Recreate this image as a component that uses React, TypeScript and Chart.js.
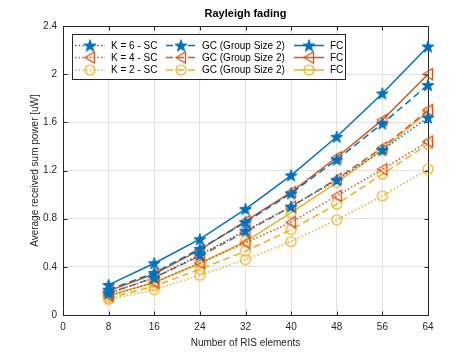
import React, { useEffect, useRef } from "react";
import { Chart, registerables } from "chart.js";

Chart.register(...registerables);

// ---- data ----
const risElements = [8, 16, 24, 32, 40, 48, 56, 64];

const sc6 = [0.18, 0.31, 0.5, 0.7, 0.9, 1.12, 1.37, 1.64];
const gc6 = [0.21, 0.35, 0.55, 0.77, 1.01, 1.29, 1.59, 1.91];
const fc6 = [0.25, 0.43, 0.63, 0.88, 1.16, 1.48, 1.84, 2.23];

const sc4 = [0.16, 0.27, 0.43, 0.6, 0.77, 0.99, 1.21, 1.44];
const gc4 = [0.18, 0.31, 0.49, 0.69, 0.9, 1.13, 1.39, 1.7];
const fc4 = [0.2, 0.34, 0.54, 0.78, 1.02, 1.31, 1.62, 2.0];

const sc2 = [0.13, 0.21, 0.33, 0.46, 0.61, 0.79, 0.99, 1.21];
const gc2 = [0.14, 0.24, 0.38, 0.53, 0.71, 0.92, 1.17, 1.42];
const fc2 = [0.16, 0.27, 0.43, 0.61, 0.85, 1.1, 1.37, 1.69];

const xTickValues = [0, 8, 16, 24, 32, 40, 48, 56, 64];
const yTickValues = [0, 0.4, 0.8, 1.2, 1.6, 2, 2.4];
const yTickLabels = ["0", "0.4", "0.8", "1.2", "1.6", "2", "2.4"];

const titleText = "Rayleigh fading";
const xTitle = "Number of RIS elements";
const yTitle = "Average received sum power [uW]";

const BLUE = "#0072BD";
const RED = "#D95319";
const YEL = "#EDB120";
const AXIS = "#262626";
const FONT = "'Liberation Sans', Arial, Helvetica, sans-serif";

function makeMarker(kind: string, color: string): HTMLCanvasElement {
  const c = document.createElement("canvas");
  c.width = 16;
  c.height = 16;
  const g = c.getContext("2d")!;
  const cx = 8,
    cy = 8;
  g.strokeStyle = color;
  g.fillStyle = color;
  g.lineWidth = 1;
  if (kind === "star") {
    g.beginPath();
    for (let i = 0; i < 10; i++) {
      const r = i % 2 === 0 ? 6.3 : 2.5;
      const ang = -Math.PI / 2 + (i * Math.PI) / 5;
      const px = cx + r * Math.cos(ang);
      const py = cy + 0.6 + r * Math.sin(ang);
      if (i === 0) g.moveTo(px, py);
      else g.lineTo(px, py);
    }
    g.closePath();
    g.fill();
    g.stroke();
  } else if (kind === "tri") {
    g.lineWidth = 1.3;
    g.beginPath();
    g.moveTo(cx - 5, cy);
    g.lineTo(cx + 4.5, cy - 5.5);
    g.lineTo(cx + 4.5, cy + 5.5);
    g.closePath();
    g.stroke();
  } else {
    g.lineWidth = 1.2;
    g.beginPath();
    g.arc(cx, cy, 5, 0, Math.PI * 2);
    g.stroke();
  }
  return c;
}

const DOTTED = [1.5, 2.2];
const DASHED = [7, 4];

export default function App() {
  const ref = useRef<HTMLCanvasElement | null>(null);

  useEffect(() => {
    if (!ref.current) return;
    const star = makeMarker("star", BLUE);
    const tri = makeMarker("tri", RED);
    const circ = makeMarker("circle", YEL);

    const series = [
      { label: "K = 6 - SC", data: sc6, color: BLUE, dash: DOTTED, marker: star, row: 0, col: 0 },
      { label: "GC (Group Size 2)", data: gc6, color: BLUE, dash: DASHED, marker: star, row: 0, col: 1 },
      { label: "FC", data: fc6, color: BLUE, dash: [], marker: star, row: 0, col: 2 },
      { label: "K = 4 - SC", data: sc4, color: RED, dash: DOTTED, marker: tri, row: 1, col: 0 },
      { label: "GC (Group Size 2)", data: gc4, color: RED, dash: DASHED, marker: tri, row: 1, col: 1 },
      { label: "FC", data: fc4, color: RED, dash: [], marker: tri, row: 1, col: 2 },
      { label: "K = 2 - SC", data: sc2, color: YEL, dash: DOTTED, marker: circ, row: 2, col: 0 },
      { label: "GC (Group Size 2)", data: gc2, color: YEL, dash: DASHED, marker: circ, row: 2, col: 1 },
      { label: "FC", data: fc2, color: YEL, dash: [], marker: circ, row: 2, col: 2 },
    ];

    const datasets = series.map((s) => ({
      label: s.label,
      data: risElements.map((x, i) => ({ x, y: s.data[i] })),
      borderColor: s.color,
      backgroundColor: s.color,
      borderWidth: 1.5,
      borderDash: s.dash,
      pointStyle: s.marker,
      pointRadius: 6,
      fill: false,
      tension: 0,
      clip: false as any,
    }));

    const framePlugin = {
      id: "frame",
      beforeDatasetsDraw(chart: any) {
        const { ctx, chartArea: a, scales } = chart;
        ctx.save();
        ctx.strokeStyle = AXIS;
        ctx.lineWidth = 1;
        const L = Math.round(a.left) + 0.5;
        const R = Math.round(a.right) + 0.5;
        const T = Math.round(a.top) + 0.5;
        const B = Math.round(a.bottom) + 0.5;
        ctx.beginPath();
        ctx.rect(L, T, R - L, B - T);
        ctx.stroke();
        ctx.beginPath();
        xTickValues.forEach((v) => {
          const px = Math.round(scales.x.getPixelForValue(v)) + 0.5;
          ctx.moveTo(px, B);
          ctx.lineTo(px, B - 4);
          ctx.moveTo(px, T);
          ctx.lineTo(px, T + 4);
        });
        yTickValues.forEach((v) => {
          const py = Math.round(scales.y.getPixelForValue(v)) + 0.5;
          ctx.moveTo(L, py);
          ctx.lineTo(L + 4, py);
          ctx.moveTo(R, py);
          ctx.lineTo(R - 4, py);
        });
        ctx.stroke();
        ctx.restore();
      },
      afterDraw(chart: any) {
        const { ctx, chartArea: a } = chart;
        ctx.save();
        // title
        ctx.fillStyle = "#000";
        ctx.font = `bold 11px ${FONT}`;
        ctx.textAlign = "center";
        ctx.textBaseline = "middle";
        ctx.fillText(titleText, (a.left + a.right) / 2, 14);

        // legend
        const bx = 72.5,
          by = 34.5,
          bw = 273,
          bh = 45;
        ctx.fillStyle = "#fff";
        ctx.fillRect(bx, by, bw, bh);
        ctx.strokeStyle = AXIS;
        ctx.lineWidth = 1;
        ctx.setLineDash([]);
        ctx.strokeRect(bx, by, bw, bh);
        const rowY = [45.5, 57.5, 70];
        const colX = [75, 166, 294];
        const sampleW = 30;
        const textGap = 6;
        ctx.font = `10px ${FONT}`;
        ctx.textAlign = "left";
        ctx.textBaseline = "middle";
        series.forEach((s) => {
          const x0 = colX[s.col];
          const y = rowY[s.row];
          ctx.save();
          ctx.strokeStyle = s.color;
          ctx.lineWidth = 1.5;
          ctx.setLineDash(s.dash);
          ctx.beginPath();
          ctx.moveTo(x0, y);
          ctx.lineTo(x0 + sampleW, y);
          ctx.stroke();
          ctx.restore();
          const m = s.marker;
          ctx.drawImage(m, x0 + sampleW / 2 - m.width / 2, y - m.height / 2);
          ctx.fillStyle = "#000";
          ctx.fillText(s.label, x0 + sampleW + textGap, y + 0.5);
        });
        ctx.restore();
      },
    };

    const tickFont = { family: FONT, size: 10 };

    const chart = new Chart(ref.current, {
      type: "line",
      data: { datasets: datasets as any },
      options: {
        responsive: false,
        animation: false,
        events: [],
        layout: { padding: { top: 26, right: 46, left: 0, bottom: 0 } },
        plugins: {
          legend: { display: false },
          tooltip: { enabled: false },
          title: { display: false },
        },
        scales: {
          x: {
            type: "linear",
            min: 0,
            max: 64,
            afterBuildTicks: (s: any) => {
              s.ticks = xTickValues.map((v) => ({ value: v }));
            },
            ticks: {
              font: tickFont,
              color: AXIS,
              padding: 6,
              maxRotation: 0,
              autoSkip: false,
              callback: (v: any) => String(v),
            },
            grid: { color: "#e2e2e2", drawTicks: false, tickLength: 0 },
            border: { display: false },
            title: {
              display: true,
              text: xTitle,
              color: AXIS,
              font: { family: FONT, size: 10 },
              padding: { top: 0, bottom: 6 },
            },
            afterFit: (s: any) => {
              s.height = 40;
            },
          },
          y: {
            type: "linear",
            min: 0,
            max: 2.4,
            afterBuildTicks: (s: any) => {
              s.ticks = yTickValues.map((v) => ({ value: v }));
            },
            ticks: {
              font: tickFont,
              color: AXIS,
              padding: 6,
              autoSkip: false,
              callback: (_v: any, i: number) => yTickLabels[i],
            },
            grid: { color: "#e2e2e2", drawTicks: false, tickLength: 0 },
            border: { display: false },
            title: {
              display: true,
              text: yTitle,
              color: AXIS,
              font: { family: FONT, size: 10 },
              padding: { top: 29, bottom: 0 },
            },
            afterFit: (s: any) => {
              s.width = 63;
            },
          },
        },
      },
      plugins: [framePlugin],
    });
    return () => chart.destroy();
  }, []);

  return (
    <div style={{ position: "absolute", left: 0, top: 0, width: 474, height: 355, background: "#fff" }}>
      <canvas ref={ref} width={474} height={355} style={{ width: 474, height: 355 }} />
    </div>
  );
}
